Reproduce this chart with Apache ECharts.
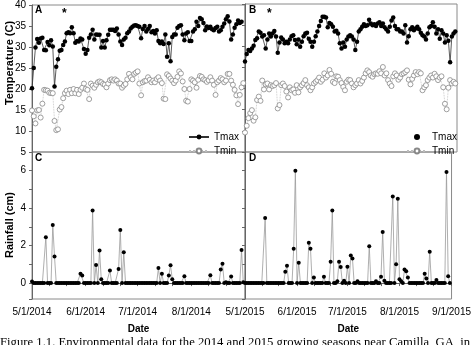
<!DOCTYPE html>
<html><head><meta charset="utf-8">
<script src="https://cdn.jsdelivr.net/npm/echarts@6/dist/echarts.min.js"></script>
<style>html,body{margin:0;padding:0;background:#fff}#c{width:474px;height:345px}</style>
</head><body><div id="c"></div>
<script>
// ---- data (daily, May 1 onward) ----
const tmax2014 = [20.2,25.0,29.9,31.9,31,32,32.2,29.3,29.2,31.2, 30.4,31.6,30.1,20.6,25.3,27.1,29.1,29.3,30.5,31.3,
  33.3,33.5,33.3,34.7,33.3,31,31.4,31.3,32,31.8, 29.5,28.4,29.3,32.2,33,34.1,31.8,33,32.9,32.9,
  29.9,31.4,29.9,31.6,32.9,34.1,34.1,34.1,33.8,34.4, 33,31.3,30.5,31.8,32.2,33.3,33.7,34.4,34.8,35.1,
  35.2,35.0,34.8,32.1,34.3,35,33.7,34.3,35.0,33.5, 33.8,33.2,34,31.4,30.9,31.3,30.7,33,27.7,30.9,
  26.6,32.4,33,33,34.6,35,35.2,33,31.6,33.2, 33.5,31.4,31.4,33.7,34.2,36,35,36.9,36.6,35.7,
  34,34.9,34.5,34.8,34.2,34,34.5,34.8,33.7,34, 34.8,35.6,36.6,37.3,36.1,31.8,33,34.6,35.4,36.3,
  35.7,36.0];
const tmin2014 = [14.9,13.5,11.8,14.9,15,13.2,16.5,19.8,19.7,19.6, 19.1,19,19,12.4,10.2,10.4,15.1,15.7,17.8,19,
  19.6,18.8,19.8,19,20,19,19.8,18.8,19.8,20.3, 21.3,20,19.8,17.6,21.3,20.8,20.3,21,21.6,21.8,
  21.6,21.2,21,20.4,21.3,22.1,22.3,22,22.3,22, 21.3,21.3,20.3,20.8,21.2,22.3,23.6,22.8,22.3,23.6,
  23.9,24.2,21.3,18.5,21.6,21.9,22,22.8,22.2,21.6, 22,21.6,22.4,22.8,22,21.4,17.7,17.6,23.5,23.1,
  22.5,22,21.4,22,22.9,24.2,23.7,21.8,20,17.2, 17,20,22.3,22,21.6,20.3,22.2,23.1,22.9,22.3,
  22.1,21.7,22.1,22.8,22,21,18.6,21.6,22,22.6, 22.3,21.6,22,23.6,23.6,22,21,19.8,18.5,16.4,
  18.6,20.4,21.4];
const tmax2015 = [26.4,28.2,29.1,28.9,29.5,30.1,31.5,31.9,33.5,33.2, 32.3,32.6,29.5,31.6,33,32.3,33,33.6,32.3,28.5,
  30.9,32.1,31.6,30.7,31.1,30.7,31.6,32.4,32.6,31.5, 30.5,31.6,29.9,31.1,32.4,33,33.2,31.8,31.1,29.9,
  31.1,32.4,33.5,34.8,36,37,37,36.8,34.5,35.5, 35.2,34.6,33.5,33.7,33,30.7,29.5,30.9,29.9,31.6,
  32.3,32.6,32.3,31.6,29.1,31.1,33.5,34,34.6,35.2, 34.8,35,36.3,35.4,35,35.2,34.8,35.4,35.7,34.8,
  35.4,34.5,34,33.5,34.6,36.1,36.8,34.8,34,34, 33.5,33.5,33,35,30.9,32.4,34,34.5,33.8,34.2,
  34.6,34,33.2,32.6,32.3,31.6,33,34.5,34.8,35.7, 34.6,33,34,31.8,33.8,33,30.9,32.6,31.3,26.2,
  32.3,33,33.5];
const tmin2015 = [9.6,11.2,13,14.2,14.9,12.4,13.2,17.3,18.1,17.1, 21.9,19.8,21,21.2,19.8,20.8,20.6,20.8,21.3,15.3,
  16.1,20.8,21.2,20.6,19.3,17.9,20.3,19.6,19.8,19, 20.8,19.1,20.3,20.8,21.3,22,20.8,20.3,19.6,20.3,
  21.2,21.6,22,22.6,21.6,22.1,23.6,22.6,23.1,24.4, 23.5,21.6,21.3,22.9,22.8,22,21.3,20.4,19.6,21.6,
  22.1,22,21.2,20.3,20.8,21.2,22,21.2,21.8,22.6, 23.6,24.3,23.9,23.1,22.8,23.4,23.6,23.5,24.1,23.6,
  25.1,23.1,23.6,22,21.2,20.6,22.9,23.6,23.1,22.1, 22.6,23.4,23.6,23.9,24.3,22.1,21,22.3,23.1,23.9,
  23.4,23.9,23.6,19.6,20.3,20.8,22,22.6,23.1,22.6, 23.5,22.9,22,22.6,22.9,20.3,16.4,15.1,20.2,22,
  21.2,21.6,21.2];
const rain2014 = [0.08,0,0,0,0,0,0,0,2.45,0, 0,0,3.1,1.42,0,0,0,0,0,0, 0,0,0,0,0,0,0,0,0.5,0.4,
  0,0,0,0,0,3.87,0,0.96,0,1.74, 0.2,0,0,0,0,0.67,0,0,0,0, 0.75,2.84,0,1.65,0,0,0,0,0,0,
  0,0,0,0,0,0,0,0,0,0, 0,0,0,0.8,0,0.5,0,0,0,0.4, 0.95,0.2,0,0,0,0,0,0,0.37,0,
  0,0,0,0,0,0,0,0,0,0, 0,0,0,0.42,0,0,0,0,0,0.73, 1.03,0,0.05,0,0,0.35,0,0,0,0,
  0,1.76,0.05];
const rain2015 = [0,0,0,0,0,0,0,0,0,0, 0,0,3.48,0,0,0,0,0,0,0, 0,0,0,0,0.6,0.92,0,0,0,1.84,
  6.0,0,1.08,0,0,0,0,0,2.16,1.84, 0,0.3,0,0,0,0,0,0.34,0,0, 0,1.14,3.87,0,0,0.1,1.14,0.86,0,0.13,
  0,0.87,0,1.47,1.31,0,0,0.1,0,0, 0,0,0,0,1.97,0,0,0,0.1,0, 0,0.34,2.73,0.13,0,0,0,0,4.63,0,
  1.0,4.5,0.2,0.1,0,0.72,0.63,0.3,0,0, 0,0,0,0,0,0,0,0.5,0.25,0, 1.67,0,0,0,0.16,0,0,0,0,0,
  5.93,0.37,0];
const ticks2014 = ['5/1/2014','6/1/2014','7/1/2014','8/1/2014'];
const ticks2015 = ['5/1/2015','6/1/2015','7/1/2015','8/1/2015','9/1/2015'];
const rainLabels = [0,2,4,6];
const tickDays = ['1','11','21'];

function makeDates(year){
  const out=[]; const d=new Date(Date.UTC(year,4,1)); const end=Date.UTC(year,8,1);
  while(d.getTime()<=end){ out.push((d.getUTCMonth()+1)+'/'+d.getUTCDate()+'/'+year); d.setUTCDate(d.getUTCDate()+1); }
  return out;
}
const dates2014 = makeDates(2014), dates2015 = makeDates(2015);

const FONT = '"Liberation Sans", Arial, sans-serif';
const FRAME = '#8a8a8a';
const AX = '#666';

const chart = echarts.init(document.getElementById('c'), null, {renderer:'canvas'});

function xa(gi, cats, labels, bottom){
  return {
    type:'category', gridIndex:gi, data:cats, boundaryGap:false,
    axisLine:{show:bottom, lineStyle:{color:AX, width:1}},
    axisTick:{show:bottom, length:3, lineStyle:{color:AX}, interval:(i,v)=>tickDays.includes(String(v).split('/')[1])},
    axisLabel:{show:bottom, interval:(i,v)=>labels.includes(v), fontSize:10, color:'#000', fontFamily:FONT, margin:8},
    name: bottom ? 'Date' : '', nameLocation:'middle', nameGap:25,
    nameTextStyle:{fontSize:10, fontWeight:'bold', color:'#000', fontFamily:FONT},
    splitLine:{show:false}
  };
}
function ya(gi, showLabels, cfg, fmt){
  const lab = {show:showLabels, fontSize:10, color:'#000', fontFamily:FONT, margin:6};
  if (fmt) lab.formatter = fmt;
  return Object.assign({
    type:'value', gridIndex:gi,
    axisLine:{show:true, lineStyle:{color:AX}},
    axisTick:{show:true, length:3, lineStyle:{color:AX}},
    axisLabel:lab,
    splitLine:{show:false}
  }, cfg);
}
const tempCfg = {min:5, max:40, interval:5};
const rainFmt = v => rainLabels.some(r => Math.abs(r - v) < 1e-6) ? String(Math.round(v)) : '';
const rainCfg = {min:-0.85, max:7, splitNumber:8};

function tminSeries(name, xi, data){
  return {name, type:'line', xAxisIndex:xi, yAxisIndex:xi, data, symbol:'circle', symbolSize:5, showAllSymbol:true,
    itemStyle:{color:'#fff', borderColor:'#888', borderWidth:0.8},
    lineStyle:{color:'#bcbcbc', width:0.8, type:'dotted'}, z:2};
}
function tmaxSeries(name, xi, data){
  return {name, type:'line', xAxisIndex:xi, yAxisIndex:xi, data, symbol:'circle', symbolSize:4.5, showAllSymbol:true,
    itemStyle:{color:'#000'}, lineStyle:{color:'#333', width:0.8}, z:3};
}
function rainSeries(name, xi, data){
  return {name, type:'line', xAxisIndex:xi, yAxisIndex:xi, data, symbol:'circle', symbolSize:4, showAllSymbol:true,
    itemStyle:{color:'#000'}, lineStyle:{color:'#9a9a9a', width:0.8}, z:3};
}
const gridBase = {show:true, borderColor:FRAME, borderWidth:1, backgroundColor:'transparent', containLabel:false};

chart.setOption({
  animation:false,
  backgroundColor:'#fff',
  textStyle:{fontFamily:FONT},
  grid:[
    Object.assign({left:32, top:4, width:213, height:148}, gridBase),
    Object.assign({left:245, top:4, width:212, height:148}, gridBase),
    Object.assign({left:32, top:152, width:213, height:147}, gridBase),
    Object.assign({left:245, top:152, width:212, height:147}, gridBase)
  ],
  xAxis:[ xa(0, dates2014, ticks2014, false), xa(1, dates2015, ticks2015, false),
          xa(2, dates2014, ticks2014, true), xa(3, dates2015, ticks2015, true) ],
  yAxis:[ ya(0, true, tempCfg), ya(1, false, tempCfg),
          ya(2, true, Object.assign({}, rainCfg), rainFmt), ya(3, false, Object.assign({}, rainCfg), rainFmt) ],
  legend:[
    {data:['Tmax2014','Tmin2014'], left:183, top:127, orient:'vertical', itemWidth:20, itemHeight:6, itemGap:4,
     formatter:n=>n.slice(0,4), textStyle:{fontSize:10, color:'#000', fontFamily:FONT}, selectedMode:false},
    {data:[{name:'Tmax2015', icon:'circle'},'Tmin2015'], left:401, top:127, orient:'vertical', itemWidth:20, itemHeight:6, itemGap:4,
     formatter:n=>n.slice(0,4), textStyle:{fontSize:10, color:'#000', fontFamily:FONT}, selectedMode:false}
  ],
  series:[
    tminSeries('Tmin2014',0,tmin2014), tmaxSeries('Tmax2014',0,tmax2014),
    tminSeries('Tmin2015',1,tmin2015), tmaxSeries('Tmax2015',1,tmax2015),
    rainSeries('Rain2014',2,rain2014), rainSeries('Rain2015',3,rain2015)
  ],
  graphic:[
    {type:'text', left:35, top:5, style:{text:'A', font:'bold 10px '+FONT, fill:'#000'}},
    {type:'text', left:249, top:5, style:{text:'B', font:'bold 10px '+FONT, fill:'#000'}},
    {type:'text', left:35, top:153, style:{text:'C', font:'bold 10px '+FONT, fill:'#000'}},
    {type:'text', left:249, top:153, style:{text:'D', font:'bold 10px '+FONT, fill:'#000'}},
    {type:'text', left:62, top:8, style:{text:'*', font:'bold 12px '+FONT, fill:'#000'}},
    {type:'text', left:267, top:8, style:{text:'*', font:'bold 12px '+FONT, fill:'#000'}},
    {type:'text', x:10, y:63, rotation:Math.PI/2, style:{text:'Temperature (C)', font:'bold 11px '+FONT, fill:'#000', align:'center', verticalAlign:'middle'}},
    {type:'text', x:10, y:225, rotation:Math.PI/2, style:{text:'Rainfall (cm)', font:'bold 11px '+FONT, fill:'#000', align:'center', verticalAlign:'middle'}},
    {type:'text', left:0, top:336, style:{text:'Figure 1.1. Environmental data for the 2014 and 2015 growing seasons near Camilla, GA, in', font:'12.7px "Liberation Serif", "Times New Roman", serif', fill:'#000'}}
  ]
});
</script></body></html>
